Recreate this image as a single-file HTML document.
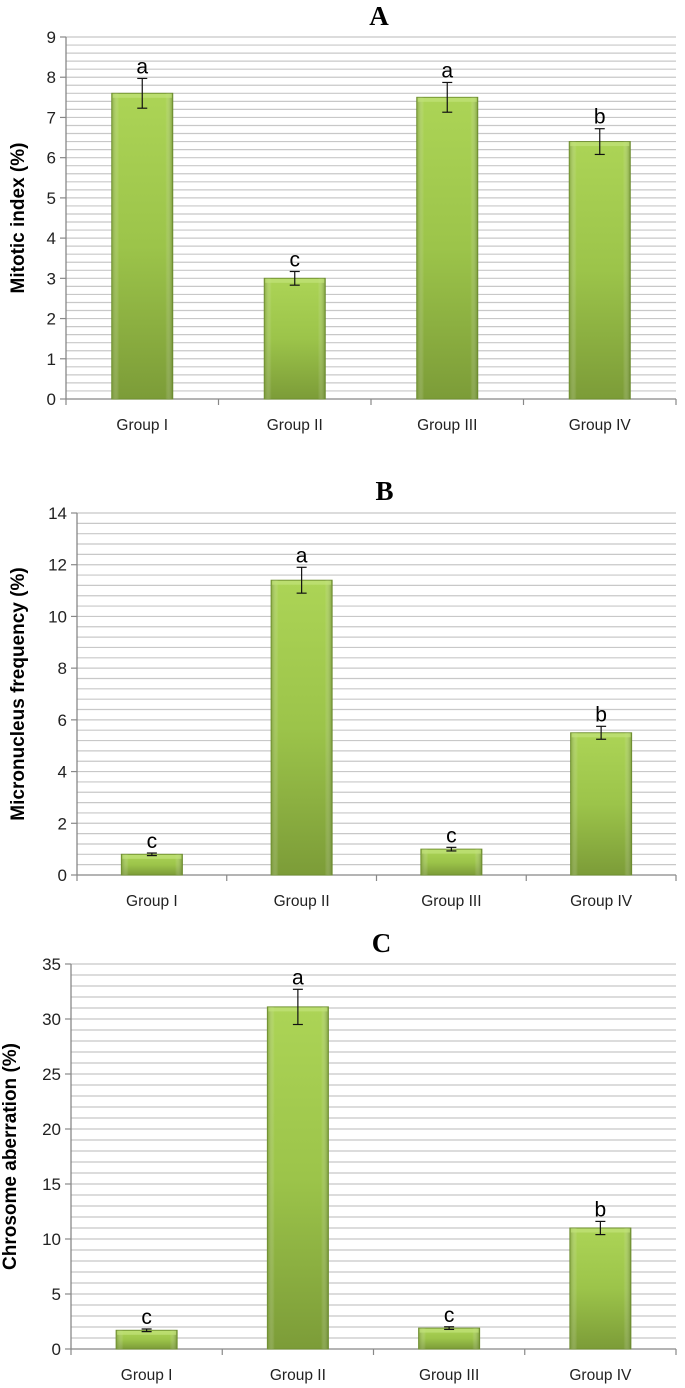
<!DOCTYPE html>
<html><head><meta charset="utf-8"><style>
html,body{margin:0;padding:0;background:#fff;}
svg{display:block;font-family:"Liberation Sans",sans-serif;}
</style></head><body>
<svg id="chart" width="685" height="1388" viewBox="0 0 685 1388">
<defs>
<linearGradient id="barFill" x1="0" y1="0" x2="0" y2="1">
<stop offset="0" stop-color="#acd456"/><stop offset="0.5" stop-color="#9cc44a"/><stop offset="1" stop-color="#7c9c38"/>
</linearGradient>
<linearGradient id="barSide" x1="0" y1="0" x2="1" y2="0">
<stop offset="0" stop-color="#6f8e2e" stop-opacity="0.6"/><stop offset="0.12" stop-color="#fff" stop-opacity="0"/><stop offset="0.88" stop-color="#fff" stop-opacity="0"/><stop offset="1" stop-color="#5f7e26" stop-opacity="0.6"/>
</linearGradient>
</defs>
</svg>
<script>
const categories = ["Group I","Group II","Group III","Group IV"];
const valuesA = [7.6, 3.0, 7.5, 6.4];
const errorsA = [0.37, 0.17, 0.37, 0.32];
const lettersA = ["a","c","a","b"];
const ticksA = [0,1,2,3,4,5,6,7,8,9];
const valuesB = [0.8, 11.4, 1.0, 5.5];
const errorsB = [0.05, 0.5, 0.07, 0.25];
const lettersB = ["c","a","c","b"];
const ticksB = [0,2,4,6,8,10,12,14];
const valuesC = [1.7, 31.1, 1.9, 11.0];
const errorsC = [0.12, 1.6, 0.12, 0.6];
const lettersC = ["c","a","c","b"];
const ticksC = [0,5,10,15,20,25,30,35];

const svg = document.getElementById('chart');
const NS = 'http://www.w3.org/2000/svg';
function mk(tag, attrs, parent){const e=document.createElementNS(NS,tag);for(const k in attrs)e.setAttribute(k,attrs[k]);(parent||svg).appendChild(e);return e;}

function panel(cfg){
  const g = mk('g',{});
  
  
  const {x0,x1,yTop,yBot,max,minor,ticks,values,errors,letters} = cfg;
  const y = v => yBot - (v/max)*(yBot-yTop);
  const bw = (x1-x0)/categories.length;
  const xc = i => x0 + bw*(i+0.5);
  const t = mk('text',{x:(x0+x1)/2+8,y:cfg.titleY,'text-anchor':'middle','font-family':'Liberation Serif, serif','font-weight':'bold','font-size':27,fill:'#000'},g);
  t.textContent = cfg.title;
  
  
  for(let v=minor; v<=max+1e-9; v+=minor){
    const l = mk('line',{x1:x0,x2:x1,y1:y(v),y2:y(v),stroke:'#c8c8c8','stroke-width':1.2},g);
    
    
  }
  const ya = mk('line',{x1:x0,x2:x0,y1:yTop,y2:yBot,stroke:'#888','stroke-width':1.3},g);
  
  
  const xa = mk('line',{x1:x0,x2:x1,y1:yBot,y2:yBot,stroke:'#888','stroke-width':1.3},g);
  
  
  ticks.forEach(v=>{
    mk('line',{x1:x0-6,x2:x0,y1:y(v),y2:y(v),stroke:'#888','stroke-width':1.2},g);
    const tl = mk('text',{x:x0-10,y:y(v)+6,'text-anchor':'end','font-size':17,fill:'#222'},g);
    tl.textContent = v;
    
    
  });
  for(let i=0;i<=categories.length;i++){
    mk('line',{x1:x0+bw*i,x2:x0+bw*i,y1:yBot,y2:yBot+6,stroke:'#888','stroke-width':1.2},g);
  }
  const yt = mk('text',{x:0,y:0,'text-anchor':'middle','font-weight':'bold','font-size':19,fill:'#000',transform:`translate(${cfg.ytX},${(yTop+yBot)/2}) rotate(-90)`},g);
  yt.textContent = cfg.yTitle;
  
  
  values.forEach((v,i)=>{
    const cx = xc(i), w = 61;
    const b = mk('rect',{x:cx-w/2,y:y(v),width:w,height:yBot-y(v),fill:'url(#barFill)',stroke:'#6f8f30','stroke-width':1},g);
    
    
    mk('rect',{x:cx-w/2,y:y(v),width:w,height:yBot-y(v),fill:'url(#barSide)'},g);
    const hi = Math.max(0, Math.min(4, yBot-y(v)));
    mk('rect',{x:cx-w/2+1,y:y(v)+0.5,width:w-2,height:hi,fill:'#c2e27a',opacity:0.7},g);
    const e = errors[i];
    const eg = mk('g',{stroke:'#111','stroke-width':1.2},g);
    
    
    mk('line',{x1:cx,x2:cx,y1:y(v+e),y2:y(v-e)},eg);
    mk('line',{x1:cx-5,x2:cx+5,y1:y(v+e),y2:y(v+e)},eg);
    mk('line',{x1:cx-5,x2:cx+5,y1:y(v-e),y2:y(v-e)},eg);
    const lt = mk('text',{x:cx,y:y(v+e)-5,'text-anchor':'middle','font-size':21,fill:'#000'},g);
    lt.textContent = letters[i];
    
    
    const cl = mk('text',{x:cx,y:yBot+31,'text-anchor':'middle','font-size':15.5,fill:'#222'},g);
    cl.textContent = categories[i];
    
    
  });
}
panel({name:'panel-a',title:'A',titleY:25,x0:66,x1:676,yTop:37,yBot:399,max:9,minor:0.2,ticks:ticksA,values:valuesA,errors:errorsA,letters:lettersA,yTitle:'Mitotic index (%)',ytX:24});
panel({name:'panel-b',title:'B',titleY:500,x0:77,x1:676,yTop:513,yBot:875,max:14,minor:0.4,ticks:ticksB,values:valuesB,errors:errorsB,letters:lettersB,yTitle:'Micronucleus frequency (%)',ytX:24});
panel({name:'panel-c',title:'C',titleY:952,x0:71,x1:676,yTop:964,yBot:1349,max:35,minor:1,ticks:ticksC,values:valuesC,errors:errorsC,letters:lettersC,yTitle:'Chrosome aberration (%)',ytX:16});
</script>
</body></html>
